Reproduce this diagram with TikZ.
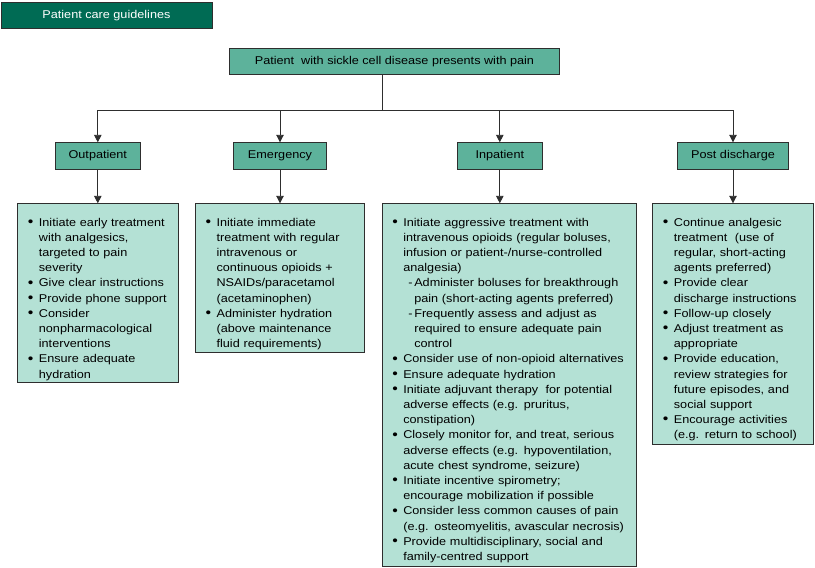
\documentclass[tikz,border=0pt]{standalone}
\usepackage{fontspec}
\setmainfont{Liberation Sans}[FakeStretch=1.12]
\usetikzlibrary{arrows.meta}
\definecolor{dkgreen}{HTML}{006B54}
\definecolor{midgreen}{HTML}{5DB29B}
\definecolor{ltgreen}{HTML}{B4E1D5}
\definecolor{edgecol}{HTML}{2E2E2E}
\newcommand\mynl{\hfil\break}
\newcommand\bitem[1]{\par\noindent\hangindent=10.7pt\hangafter=1\let\\\mynl\makebox[10.7pt][l]{\hspace*{-0.3pt}\raisebox{-0.2pt}{\scalebox{1.25}{\textbullet}}}\rule{0pt}{10pt}#1\par}
\newcommand\sitem[1]{\par\noindent\hangindent=21.7pt\hangafter=1\let\\\mynl\hspace*{15.7pt}\makebox[6pt][l]{-}#1\par}
\begin{document}
\begin{tikzpicture}[x=1pt,y=-1pt,
  every node/.style={font=\fontsize{11.3}{15.2}\selectfont},
  hdr/.style={draw=edgecol, line width=0.9pt, fill=dkgreen, text=white, inner sep=0pt, minimum height=26.3pt},
  pbox/.style={draw=edgecol, line width=0.9pt, fill=midgreen, inner sep=0pt, minimum height=26.5pt},
  cbox/.style={draw=edgecol, line width=1pt, fill=ltgreen, inner sep=0pt, anchor=north west},
  ctext/.style={inner sep=0pt, text width=320pt, anchor=north west},
  conn/.style={draw=edgecol, line width=0.9pt},
  arr/.style={conn, -{Triangle[width=7.5pt,length=7.5pt]}}]
\useasboundingbox (0,0) rectangle (815,568);
\fill[white] (0,0) rectangle (815,568);

\node[hdr, minimum width=211pt, anchor=north west] (title) at (0.5,1.7) {Patient care guidelines};
\node[pbox, minimum width=330pt, anchor=north west] (top) at (229,47.7) {Patient\ \ with sickle cell disease presents with pain};

\node[pbox, minimum width=85pt] (out) at (97.8,156) {Outpatient};
\node[pbox, minimum width=93.4pt] (eme) at (280,156) {Emergency};
\node[pbox, minimum width=85pt] (inp) at (499.8,156) {Inpatient};
\node[pbox, minimum width=110.6pt] (post) at (733,156) {Post discharge};

\node[cbox, minimum width=161pt, minimum height=179pt] (outc) at (17.3,203.3) {};
\node[cbox, minimum width=169.3pt, minimum height=148.7pt] (emec) at (195,203.3) {};
\node[cbox, minimum width=254pt, minimum height=362.5pt] (inpc) at (381.7,203.3) {};
\node[cbox, minimum width=161pt, minimum height=240.7pt] (postc) at (652.3,203.3) {};

\node[ctext] (outt) at ([shift={(10.7pt,-7.3pt)}]outc.north west) {%
\bitem{Initiate early treatment\\with analgesics,\\targeted to pain\\severity}
\bitem{Give clear instructions}
\bitem{Provide phone support}
\bitem{Consider\\nonpharmacological\\interventions}
\bitem{Ensure adequate\\hydration}};

\node[ctext] (emet) at ([shift={(10.7pt,-7.3pt)}]emec.north west) {%
\bitem{Initiate immediate\\treatment with regular\\intravenous or\\continuous opioids +\\NSAIDs/paracetamol\\(acetaminophen)}
\bitem{Administer hydration\\(above maintenance\\fluid requirements)}};

\node[ctext] (inpt) at ([shift={(10.7pt,-7.3pt)}]inpc.north west) {%
\bitem{Initiate aggressive treatment with\\intravenous opioids (regular boluses,\\infusion or patient-/nurse-controlled\\analgesia)}
\sitem{Administer boluses for breakthrough\\pain (short-acting agents preferred)}
\sitem{Frequently assess and adjust as\\required to ensure adequate pain\\control}
\bitem{Consider use of non-opioid alternatives}
\bitem{Ensure adequate hydration}
\bitem{Initiate adjuvant therapy\ \ for potential\\adverse effects (e.g. pruritus,\\constipation)}
\bitem{Closely monitor for, and treat, serious\\adverse effects (e.g. hypoventilation,\\acute chest syndrome, seizure)}
\bitem{Initiate incentive spirometry;\\encourage mobilization if possible}
\bitem{Consider less common causes of pain\\(e.g. osteomyelitis, avascular necrosis)}
\bitem{Provide multidisciplinary, social and\\family-centred support}};

\node[ctext] (postt) at ([shift={(10.7pt,-7.3pt)}]postc.north west) {%
\bitem{Continue analgesic\\treatment\ \ (use of\\regular, short-acting\\agents preferred)}
\bitem{Provide clear\\discharge instructions}
\bitem{Follow-up closely}
\bitem{Adjust treatment as\\appropriate}
\bitem{Provide education,\\review strategies for\\future episodes, and\\social support}
\bitem{Encourage activities\\(e.g. return to school)}};

\coordinate (j) at (382,110);
\draw[conn] (top.south -| j) -- (j);
\draw[conn] (out.north |- j) -- (post.north |- j);
\draw[arr] (out.north |- j) -- (out.north);
\draw[arr] (eme.north |- j) -- (eme.north);
\draw[arr] (inp.north |- j) -- (inp.north);
\draw[arr] (post.north |- j) -- (post.north);
\draw[arr] (out.south) -- (out.south |- outc.north);
\draw[arr] (eme.south) -- (eme.south |- emec.north);
\draw[arr] (inp.south) -- (inp.south |- inpc.north);
\draw[arr] (post.south) -- (post.south |- postc.north);
\end{tikzpicture}
\end{document}
